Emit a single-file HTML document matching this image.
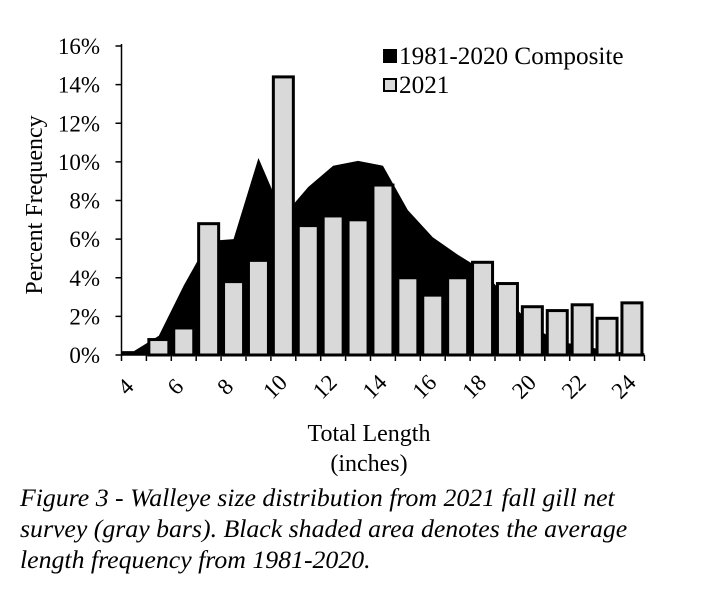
<!DOCTYPE html>
<html><head><meta charset="utf-8"><style>
body{margin:0;background:#fff;width:727px;height:607px;overflow:hidden}
svg{display:block;font-family:"Liberation Serif",serif}
</style></head><body>
<svg width="727" height="607">
<g id="area"></g>
<g id="bars"></g>
<g id="axes"></g>
<text x="42" y="205" font-size="24" text-anchor="middle" transform="rotate(-90 42 205)">Percent Frequency</text>
<text x="369" y="441" font-size="24" text-anchor="middle">Total Length</text>
<text x="369" y="471" font-size="24" text-anchor="middle">(inches)</text>
<g>
<rect x="383" y="49" width="14" height="14" fill="#000"/>
<text x="399" y="64" font-size="25.2">1981-2020 Composite</text>
<rect x="384" y="79" width="12" height="12" fill="#d9d9d9" stroke="#000" stroke-width="2"/>
<text x="399" y="93" font-size="25.2">2021</text>
</g>
<g font-size="25.8" font-style="italic">
<text x="20" y="506">Figure 3 - Walleye size distribution from 2021 fall gill net</text>
<text x="20" y="537">survey (gray bars). Black shaded area denotes the average</text>
<text x="20" y="568">length frequency from 1981-2020.</text>
</g>
</svg>
<script>
const categories=[4,5,6,7,8,9,10,11,12,13,14,15,16,17,18,19,20,21,22,23,24];
const composite=[0.2,1.0,3.6,5.9,6.0,10.2,7.2,8.7,9.8,10.05,9.8,7.5,6.1,5.2,4.4,2.9,1.5,0.7,0.5,0.2,0.1];
const y2021=[0,0.8,1.4,6.8,3.8,4.9,14.4,6.7,7.2,7.0,8.8,4.0,3.1,4.0,4.8,3.7,2.5,2.3,2.6,1.9,2.7];
const yTicks=[0,2,4,6,8,10,12,14,16];
const xLabels=[4,6,8,10,12,14,16,18,20,22,24];
const NS="http://www.w3.org/2000/svg";
const X0=121.5,STEP=24.9,Y0=355,PX=(355-46)/16;
const xc=i=>X0+(i+0.5)*STEP, ys=v=>Y0-v*PX;
function mk(t,a,p){const e=document.createElementNS(NS,t);for(const k in a)e.setAttribute(k,a[k]);p.appendChild(e);return e;}
const area=document.getElementById('area');
let pts=[[X0,Y0],[X0,ys(composite[0])]];
composite.forEach((v,i)=>pts.push([xc(i),ys(v)]));
pts.push([X0+categories.length*STEP,ys(composite[composite.length-1])],[X0+categories.length*STEP,Y0]);
const poly=mk('polygon',{points:pts.map(p=>p.join(',')).join(' '),fill:'#000'},area);


const bars=document.getElementById('bars');
y2021.forEach((v,i)=>{if(v<=0)return;const r=mk('rect',{x:xc(i)-10,y:ys(v),width:20,height:Y0-ys(v),fill:'#d9d9d9',stroke:'#000','stroke-width':3},bars);

});
const ax=document.getElementById('axes');
mk('line',{x1:X0,y1:44,x2:X0,y2:Y0,stroke:'#000','stroke-width':1.5},ax);
mk('line',{x1:X0,y1:Y0,x2:X0+categories.length*STEP,y2:Y0,stroke:'#000','stroke-width':1.5},ax);
yTicks.forEach(t=>{mk('line',{x1:X0-6,y1:ys(t),x2:X0,y2:ys(t),stroke:'#000','stroke-width':1.5},ax);
const tx=mk('text',{x:100,y:ys(t)+8,'font-size':23,'text-anchor':'end'},ax);tx.textContent=t+'%';

});
for(let i=0;i<=categories.length;i++)mk('line',{x1:X0+i*STEP,y1:Y0,x2:X0+i*STEP,y2:Y0+6,stroke:'#000','stroke-width':1.5},ax);
xLabels.forEach(l=>{const i=categories.indexOf(l);const x=xc(i)-3,y=392;
const tx=mk('text',{x:x,y:y,'font-size':23,'text-anchor':'middle',transform:`rotate(-45 ${x} ${y})`},ax);tx.textContent=l;

});
</script>
</body></html>
